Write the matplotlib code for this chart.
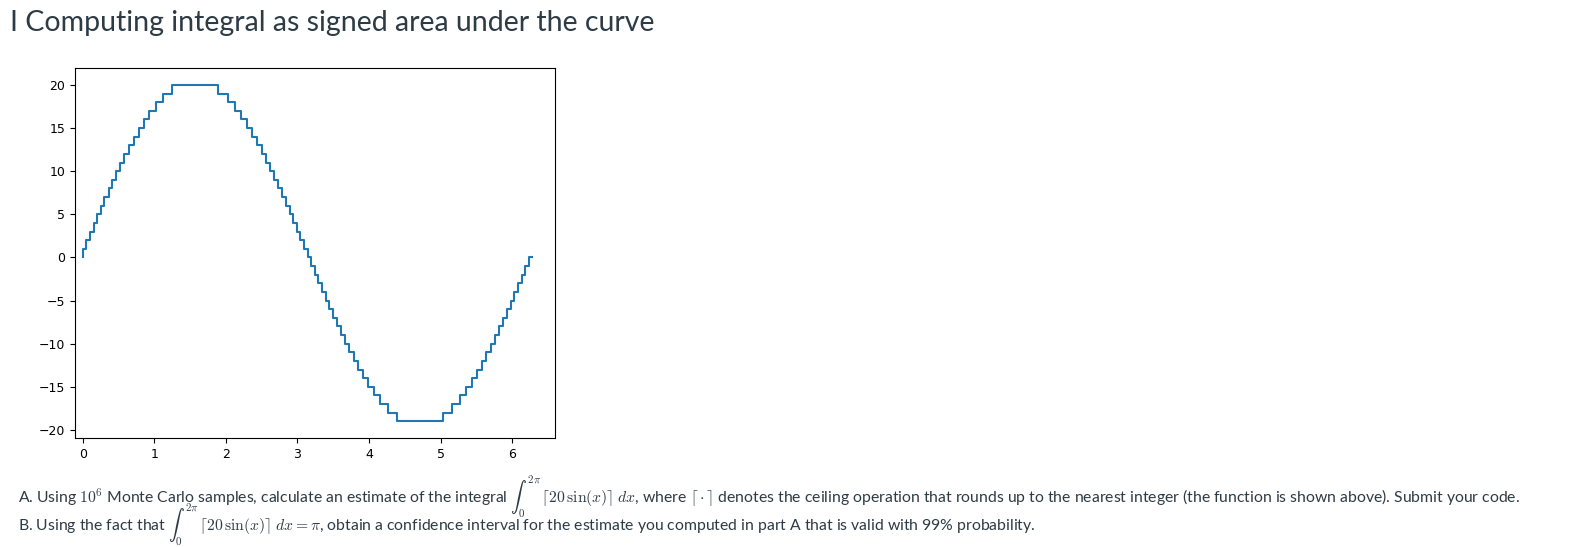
import matplotlib.pyplot as plt

plt.rcParams['mathtext.fontset'] = 'cm'

# step start positions (x) and the level held from there on
x_starts = [0.00, 0.00, 0.05, 0.10, 0.15, 0.20, 0.25, 0.30, 0.36, 0.41, 0.47, 0.52,
            0.58, 0.64, 0.71, 0.78, 0.85, 0.93, 1.02, 1.12, 1.25,
            1.888, 2.022, 2.126, 2.214, 2.293, 2.366, 2.434, 2.498, 2.559, 2.618,
            2.675, 2.730, 2.784, 2.837, 2.889, 2.940, 2.991, 3.041, 3.092, 3.142,
            3.192, 3.242, 3.292, 3.343, 3.394, 3.446, 3.499, 3.553, 3.608, 3.665,
            3.724, 3.785, 3.849, 3.917, 3.990, 4.069, 4.158, 4.262, 4.395,
            5.030, 5.164, 5.267, 5.356, 5.435, 5.508, 5.576, 5.640, 5.701, 5.760,
            5.816, 5.872, 5.926, 5.979, 6.031, 6.082, 6.133, 6.183, 6.233, 6.283]
levels = [0, 1, 2, 3, 4, 5, 6, 7, 8, 9, 10, 11, 12, 13, 14, 15, 16, 17, 18, 19, 20,
          19, 18, 17, 16, 15, 14, 13, 12, 11, 10, 9, 8, 7, 6, 5, 4, 3, 2, 1, 0,
          -1, -2, -3, -4, -5, -6, -7, -8, -9, -10, -11, -12, -13, -14, -15, -16,
          -17, -18, -19,
          -18, -17, -16, -15, -14, -13, -12, -11, -10, -9, -8, -7, -6, -5, -4,
          -3, -2, -1, 0, 0]

fig = plt.figure(figsize=(15.69, 5.47), dpi=100)
ax = fig.add_axes([75 / 1569, 1 - 438 / 547, 480 / 1569, 370 / 547])
ax.plot(x_starts, levels, drawstyle='steps-post', color='#1f77b4', lw=1.5)
ax.set_xlim(-0.11, 6.6)
ax.set_ylim(-20.93, 21.97)
ax.set_yticks([-20, -15, -10, -5, 0, 5, 10, 15, 20])
ax.tick_params(labelsize=9)

fig.text(10 / 1569, 1 - 23 / 547, "I Computing integral as signed area under the curve",
         fontsize=20.5, family='Lato', color='#2d3b45', va='center')

integral = r"$\int_0^{2\pi}\,\lceil 20\,\sin(x)\rceil\;dx$"
fig.text(18 / 1569, 1 - 497 / 547,
         "A. Using $10^6$ Monte Carlo samples, calculate an estimate of the integral " + integral +
         r", where $\lceil\cdot\rceil$ denotes the ceiling operation that rounds up to the nearest integer "
         "(the function is shown above). Submit your code.",
         fontsize=11.3, family='Lato', color='#2d3b45', va='center')
fig.text(18 / 1569, 1 - 525 / 547,
         "B. Using the fact that " + r"$\int_0^{2\pi}\,\lceil 20\,\sin(x)\rceil\;dx = \pi$"
         + ", obtain a confidence interval for the estimate you computed in part A that is valid with 99% probability.",
         fontsize=11.3, family='Lato', color='#2d3b45', va='center')

fig.savefig('out.png', dpi=100)
